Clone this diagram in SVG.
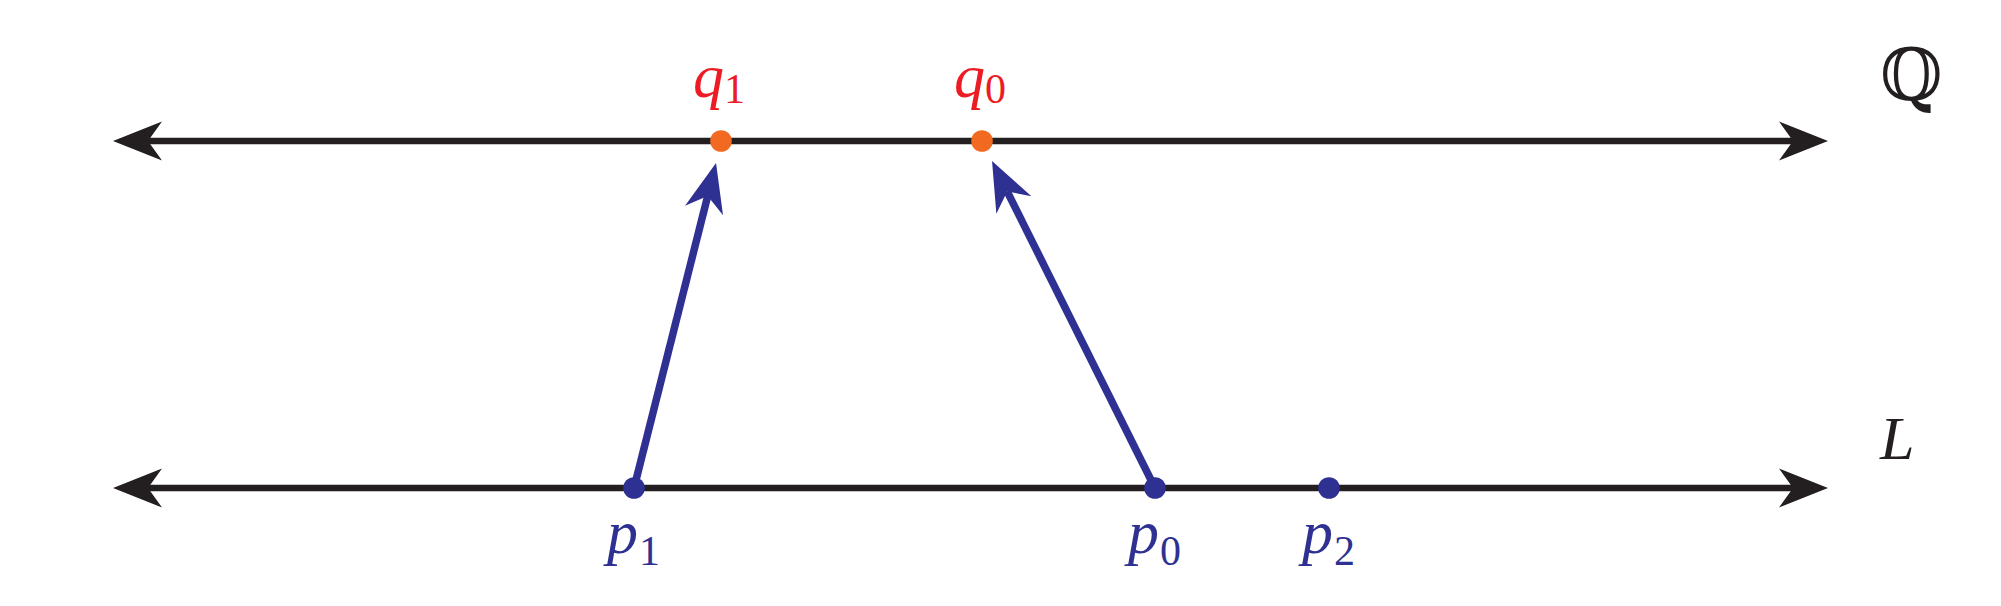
<svg xmlns="http://www.w3.org/2000/svg" width="2001" height="606" viewBox="0 0 2001 606">
<style>
.ln{stroke:#231F20;stroke-width:6.5;fill:none}
.vec{stroke:#2E3192;stroke-width:7.5;fill:none}
.qd{fill:#F26A21}
.pd{fill:#2E3192}
.it{font-family:"Liberation Serif","Times New Roman",serif;font-style:italic;font-size:62px}
.sub{font-family:"Liberation Serif","Times New Roman",serif;font-size:42px}
.red{fill:#ED1C24}
.blue{fill:#2E3192}
.blk{fill:#231F20}
</style>
<defs>
<marker id="mk" markerUnits="userSpaceOnUse" orient="auto-start-reverse" overflow="visible" markerWidth="1" markerHeight="1" refX="0" refY="0">
<path d="M35,0 L-14,-19.5 L0,0 L-14,19.5 Z" fill="#231F20"/>
</marker>
<marker id="mb" markerUnits="userSpaceOnUse" orient="auto" overflow="visible" markerWidth="1" markerHeight="1" refX="0" refY="0">
<path d="M34,0 L-15,-19.6 L0,0 L-15,19.6 Z" fill="#2E3192"/>
</marker>
</defs>
<g id="connectors">
<line id="lineQ" class="ln" x1="148" y1="141" x2="1793" y2="141" marker-start="url(#mk)" marker-end="url(#mk)"/>
<line id="lineL" class="ln" x1="148" y1="488" x2="1793" y2="488" marker-start="url(#mk)" marker-end="url(#mk)"/>
<line id="v1" class="vec" x1="634" y1="488" x2="707.7" y2="196" marker-end="url(#mb)"/>
<line id="v0" class="vec" x1="1155" y1="488" x2="1007.2" y2="191.5" marker-end="url(#mb)"/>
</g>
<g id="Q">
<text x="1880" y="100" font-family="'DejaVu Serif',serif" font-size="72" class="blk">ℚ</text>
</g>
<g id="L">
<text x="1880" y="459" class="it blk">L</text>
</g>
<g id="q1">
<circle class="qd" cx="721" cy="141" r="10.8"/>
<text x="693" y="97" class="it red">q</text>
<text x="724" y="103" class="sub red">1</text>
</g>
<g id="q0">
<circle class="qd" cx="982" cy="141" r="10.8"/>
<text x="954" y="97" class="it red">q</text>
<text x="985" y="103" class="sub red">0</text>
</g>
<g id="p1">
<circle class="pd" cx="634" cy="488" r="10.8"/>
<text x="607" y="553" class="it blue">p</text>
<text x="639" y="565" class="sub blue">1</text>
</g>
<g id="p0">
<circle class="pd" cx="1155" cy="488" r="10.8"/>
<text x="1128" y="553" class="it blue">p</text>
<text x="1160" y="565" class="sub blue">0</text>
</g>
<g id="p2">
<circle class="pd" cx="1329" cy="488" r="10.8"/>
<text x="1302" y="553" class="it blue">p</text>
<text x="1334" y="565" class="sub blue">2</text>
</g>
</svg>
